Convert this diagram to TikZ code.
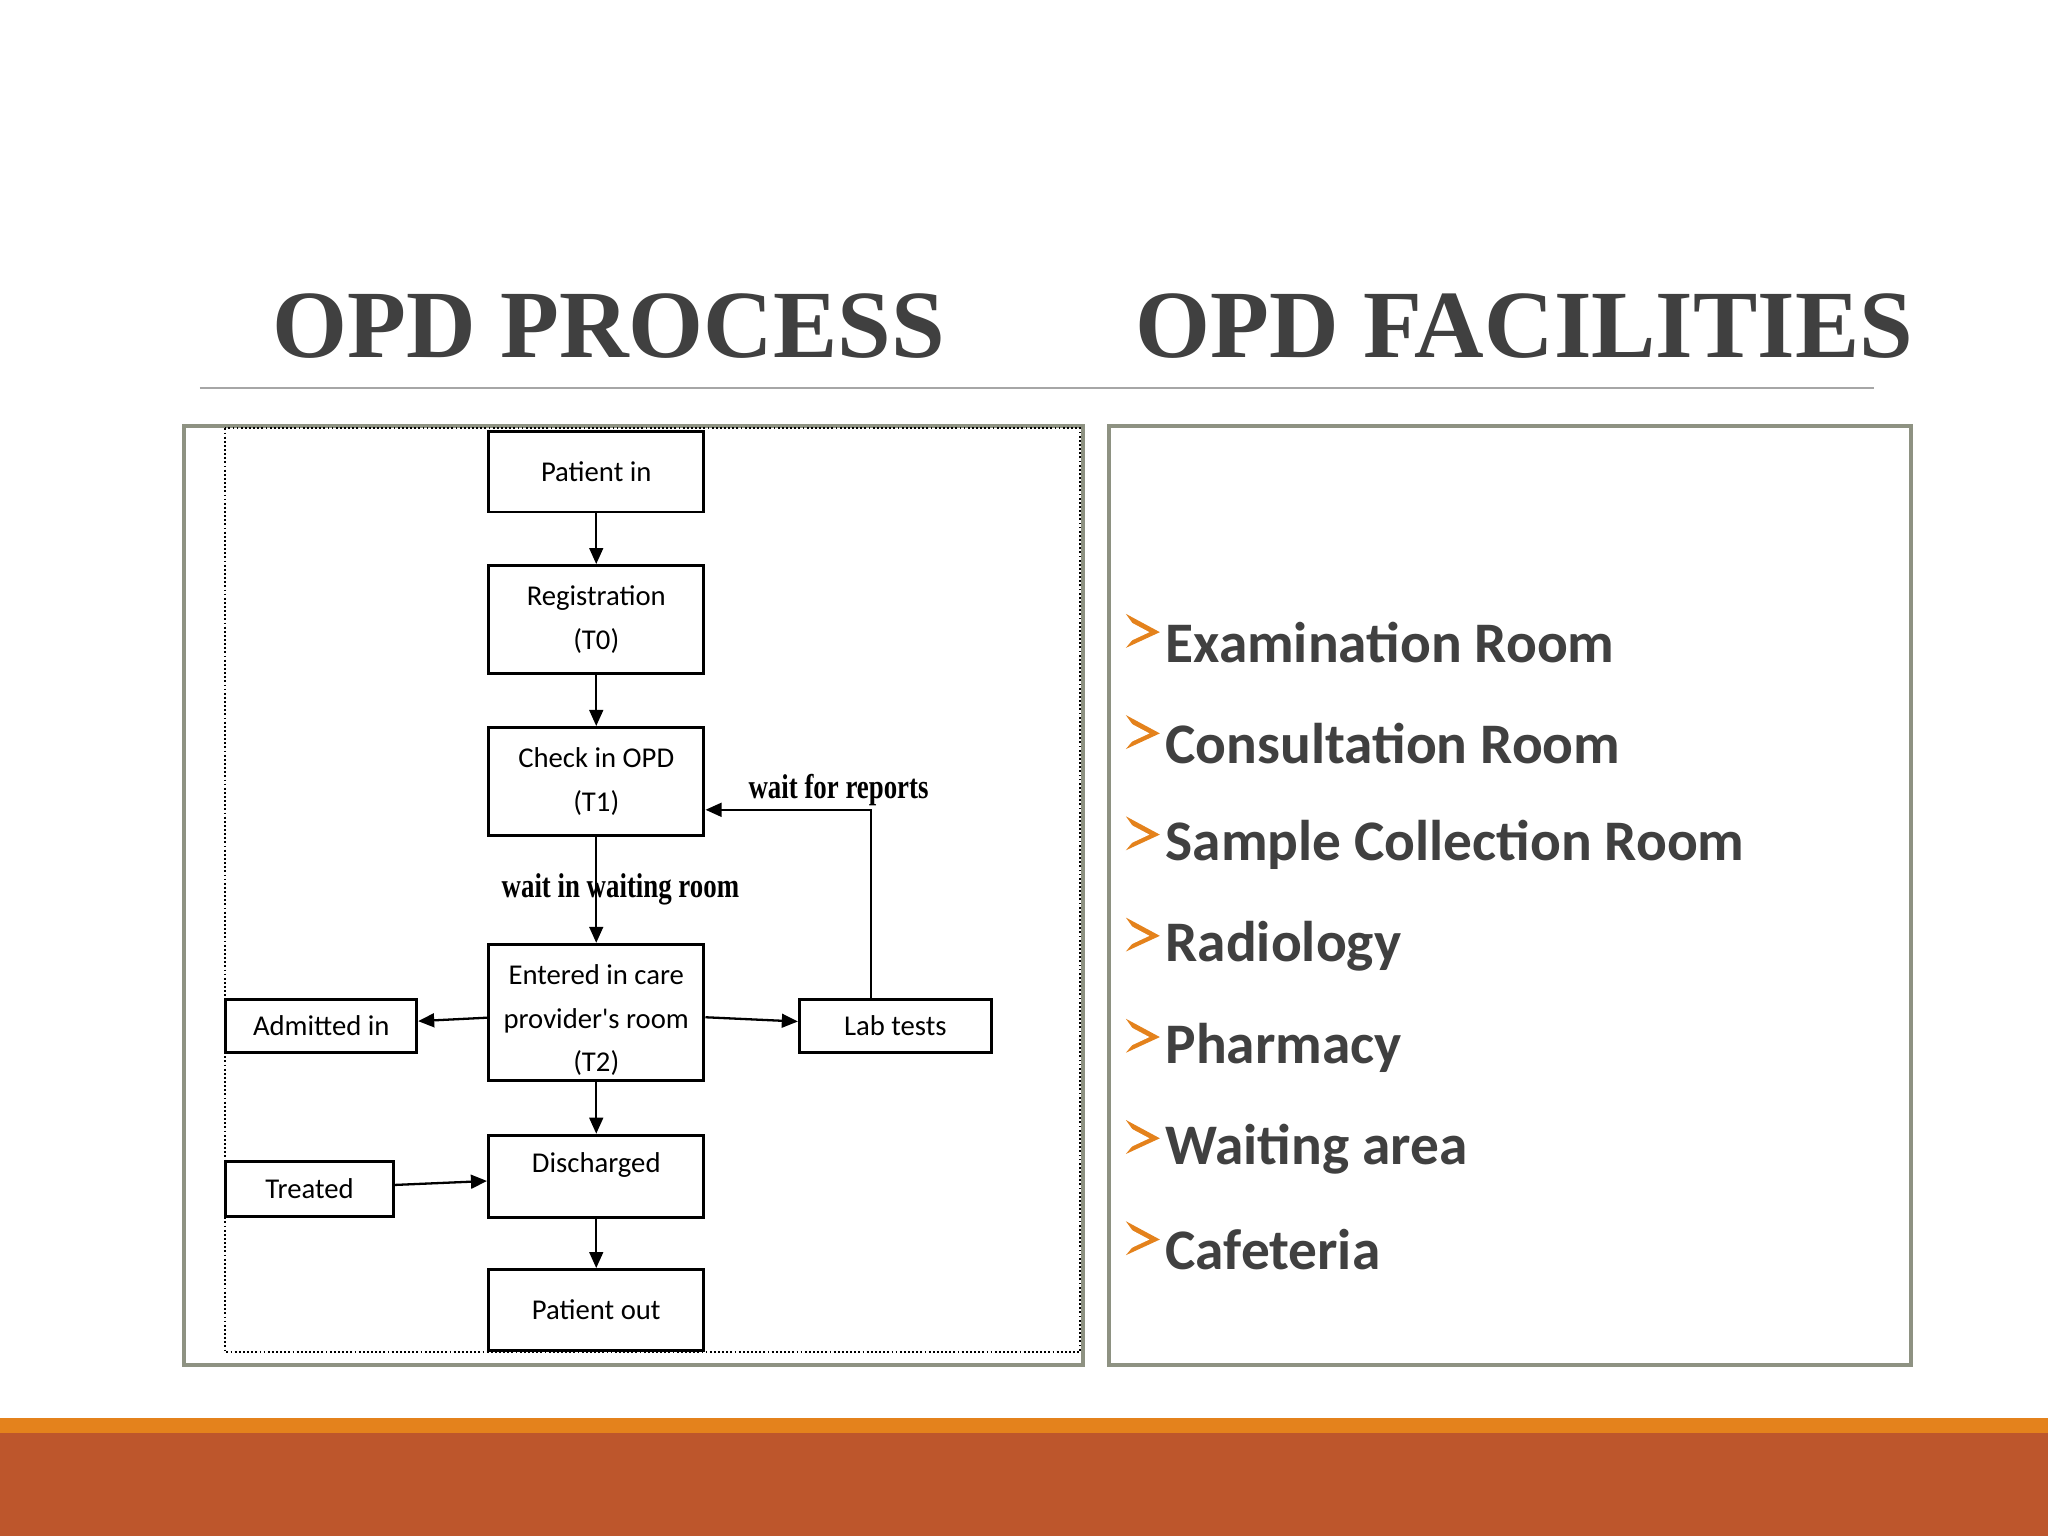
\documentclass[tikz,border=0pt]{standalone}
\usepackage{fontspec}
\setmainfont{Liberation Serif}
\newfontfamily\carl{Carlito}
\usetikzlibrary{arrows.meta}
\definecolor{txt}{HTML}{404040}
\definecolor{frame}{HTML}{8E9282}
\definecolor{orng}{HTML}{E4821C}
\definecolor{rust}{HTML}{BD562C}
\tikzset{
 box/.style={draw,line width=1.3pt,inner sep=0pt,font=\carl\fontsize{12.5}{19}\selectfont,align=center},
 arr/.style={line width=1pt,-{Triangle[length=7pt,width=6pt]}},
 ttl/.style={font=\bfseries\fontsize{42}{46}\selectfont,text=txt},
 fac/.style={font=\carl\bfseries\fontsize{25}{28}\selectfont,text=txt,anchor=west,inner sep=0pt},
 lbl/.style={font=\bfseries\fontsize{15}{17}\selectfont,inner sep=0pt}
}
\begin{document}
\begin{tikzpicture}[x=0.02cm,y=-0.02cm]
\useasboundingbox (0,0) rectangle (1568,1176);
\fill[white] (0,0) rectangle (1568,1176);
\fill[orng] (0,1086) rectangle (1568,1097);
\fill[rust] (0,1097) rectangle (1568,1176);
\node[ttl] (t1) at (466,250) {OPD PROCESS};
\node[ttl] (t2) at (1167,250) {OPD FACILITIES};
\draw[gray!70,line width=0.8pt] (153,297) -- (1435,297);
\draw[frame,line width=1.5pt] (141,326) rectangle (829,1045);
\draw[frame,line width=1.5pt] (849,326) rectangle (1463,1045);
\draw[densely dotted,line width=0.8pt] (172,328) rectangle (827,1035);
% boxes
\node[box,minimum width=3.3cm,minimum height=1.24cm] (pin) at (456.5,361) {Patient in};
\node[box,minimum width=3.3cm,minimum height=1.66cm] (reg) at (456.5,474.5) {Registration\\(T0)};
\node[box,minimum width=3.3cm,minimum height=1.66cm] (chk) at (456.5,598.5) {Check in OPD\\(T1)};
\node[box,minimum width=3.3cm,minimum height=2.08cm] (ent) at (456.5,775) {};
\node[font=\carl\fontsize{12.5}{19}\selectfont,align=center,inner sep=0pt] (entt) at (456.5,781) {Entered in care\\provider's room\\(T2)};
\node[box,minimum width=2.92cm,minimum height=0.82cm] (adm) at (246,785.5) {Admitted in};
\node[box,minimum width=2.94cm,minimum height=0.82cm] (lab) at (685.5,785.5) {Lab tests};
\node[box,minimum width=2.56cm,minimum height=0.84cm] (trt) at (237,910) {Treated};
\node[box,minimum width=3.3cm,minimum height=1.26cm,anchor=north] (dis) at (456.5,868) {};
\node[font=\carl\fontsize{12.5}{19}\selectfont,inner sep=0pt] (dist) at (456.5,892) {Discharged};
\node[box,minimum width=3.3cm,minimum height=1.24cm] (pout) at (456.5,1003) {Patient out};
% arrows
\draw[arr] (pin) -- (reg);
\draw[arr] (reg) -- (chk);
\draw[arr] (chk) -- (ent);
\draw[arr] (ent) -- (dis);
\draw[arr] (dis) -- (pout);
\draw[arr] (ent) -- (adm);
\draw[arr] (ent) -- (lab);
\draw[arr] (trt) -- (dis);
\coordinate (c1) at (667,620);
\draw[arr] (lab.north -| c1) -- (c1) -- (chk.east |- c1);
\node[lbl] (w1) at (642,605) {\scalebox{0.78}[1]{wait for reports}};
\node[lbl] (w2) at (475,681) {\scalebox{0.78}[1]{wait in waiting room}};
% facilities
\foreach \t [count=\i] in {Examination Room,Consultation Room,Sample Collection Room,Radiology,Pharmacy,Waiting area,Cafeteria}{
  \pgfmathsetmacro\yy{492+77.5*(\i-1)}
  \fill[orng] (862,\yy-22) -- (888,\yy-8) -- (862,\yy+4) -- (872,\yy-8) -- cycle;
  \fill[white] (865,\yy-16) -- (880,\yy-8) -- (865,\yy-1) -- (870,\yy-8) -- cycle;
  \node[fac] (f\i) at (892,\yy) {\t};
}
\end{tikzpicture}
\end{document}
